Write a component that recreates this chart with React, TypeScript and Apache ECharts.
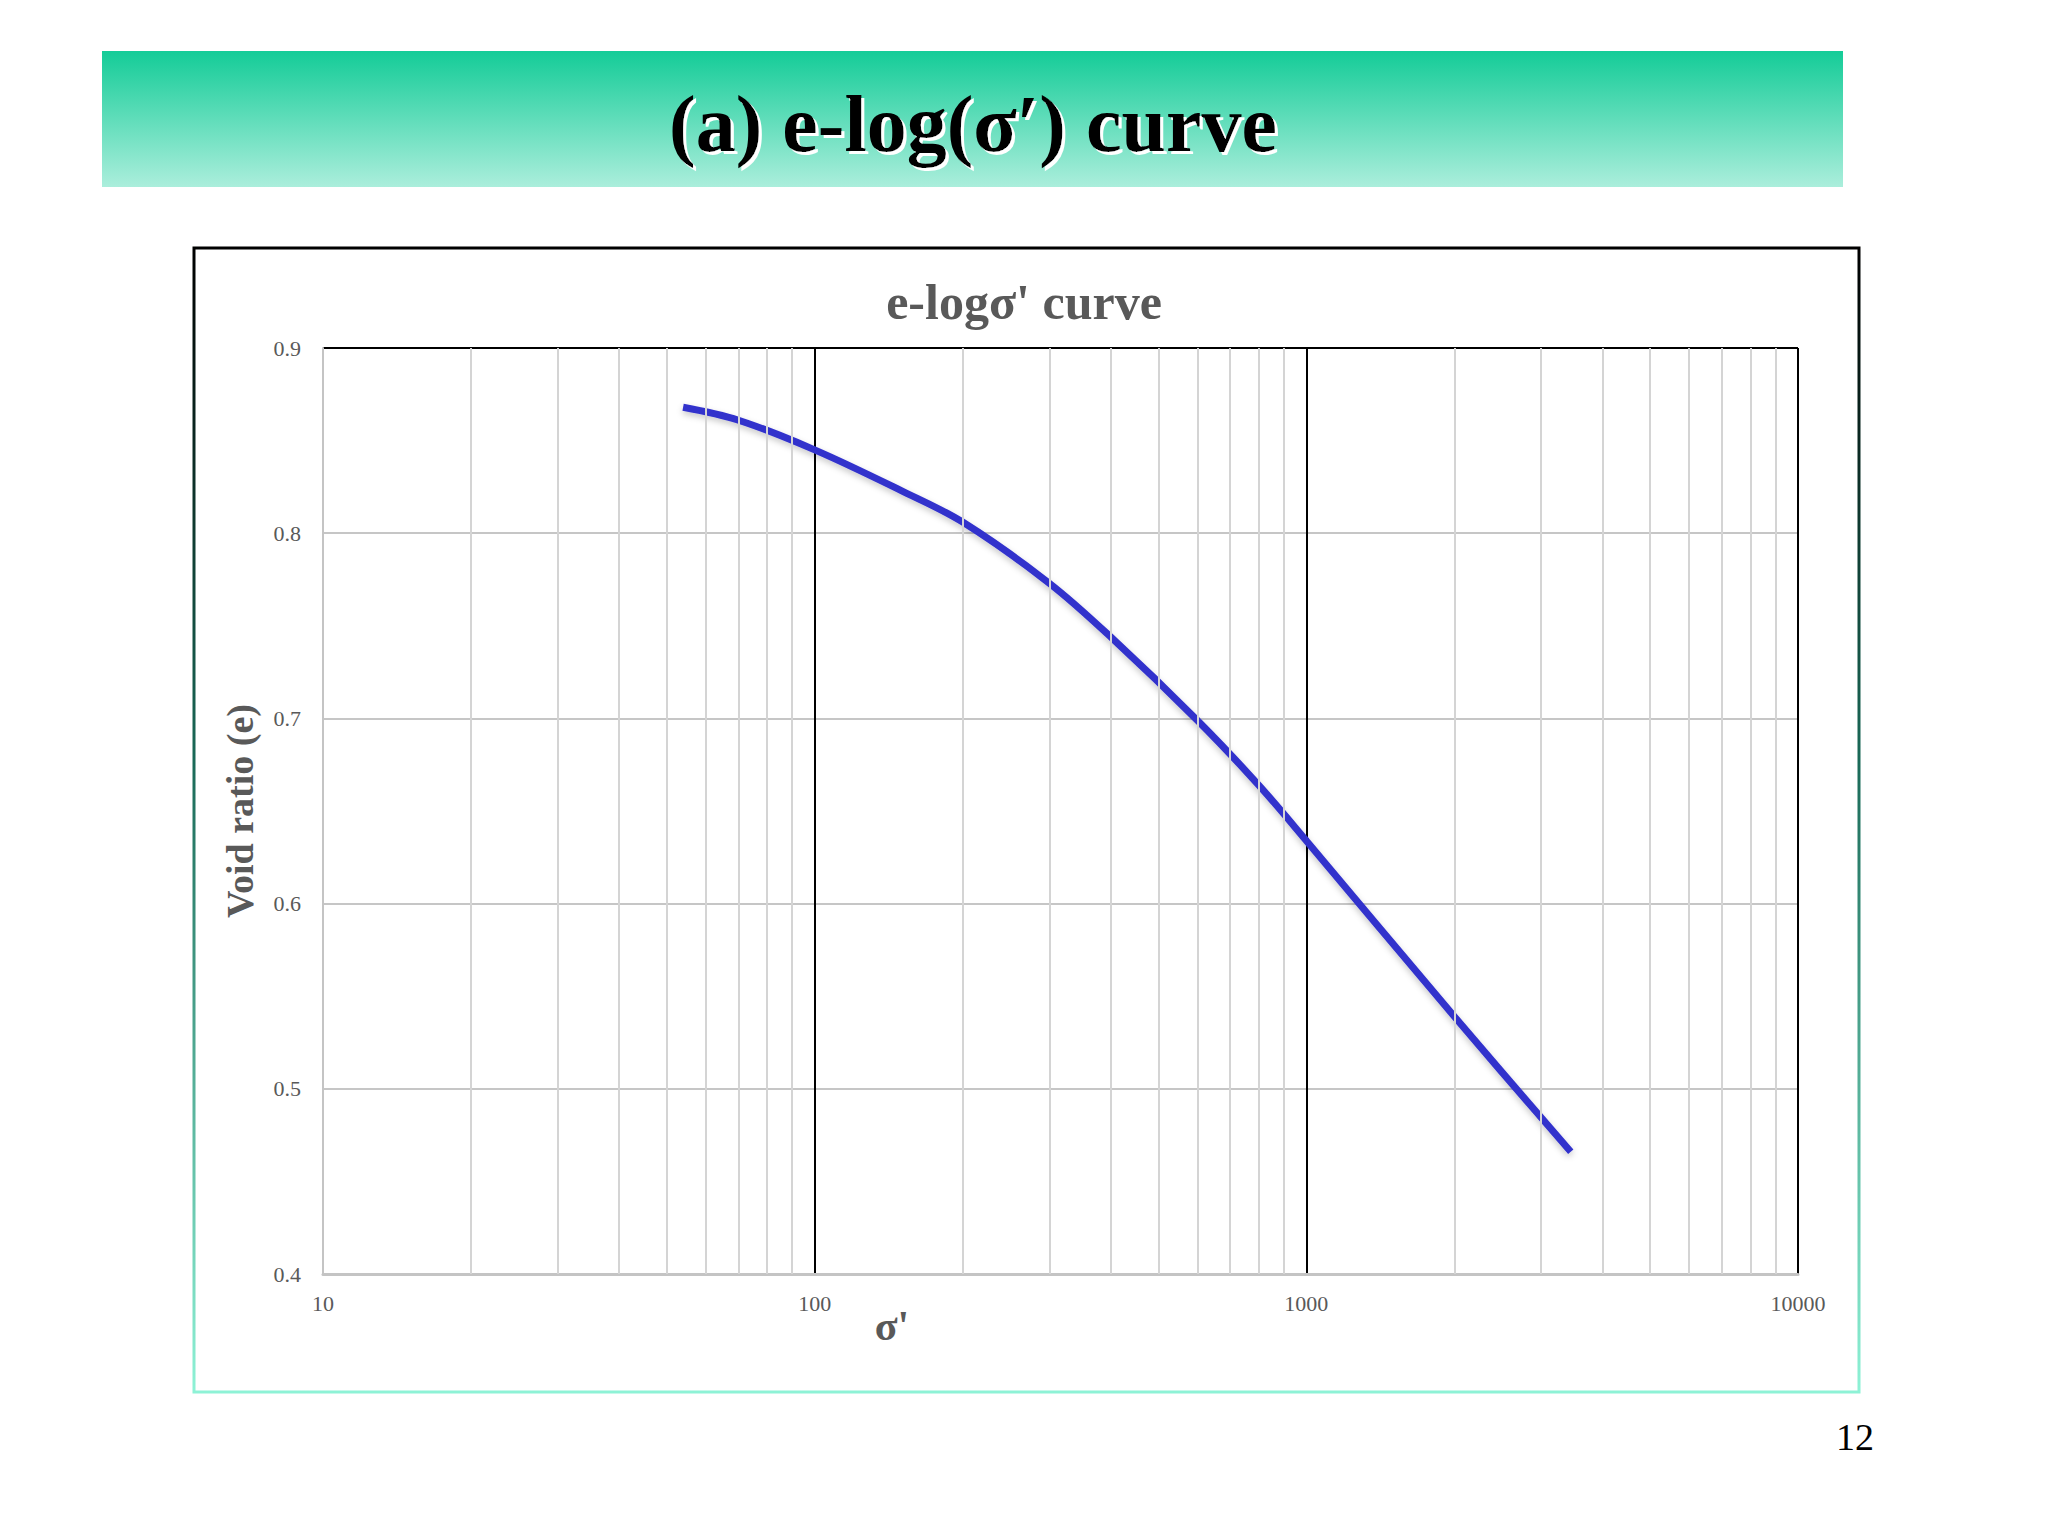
import React, { useEffect, useRef } from "react";
import * as echarts from "echarts";

const sigma = [54, 70, 100, 150, 200, 300, 400, 600, 800, 1000, 2000, 3450];
const voidRatio = [0.868, 0.861, 0.845, 0.823, 0.806, 0.773, 0.744, 0.699, 0.664, 0.634, 0.539, 0.466];
const minorX = [20, 30, 40, 50, 60, 70, 80, 90, 200, 300, 400, 500, 600, 700, 800, 900, 2000, 3000, 4000, 5000, 6000, 7000, 8000, 9000];
const xRange = [10, 10000];
const yRange = [0.4, 0.9];
const yStep = 0.1;

const pageTitle = "(a) e-log(σ′) curve";
const chartTitle = "e-logσ' curve";
const xName = "σ'";
const yName = "Void ratio (e)";
const pageNo = "12";

const serif = "Liberation Serif";

export default function App() {
  const ref = useRef<HTMLDivElement>(null);
  useEffect(() => {
    if (!ref.current) return;
    const chart = echarts.init(ref.current, null, { renderer: "svg" });
    const data = sigma.map((s, i) => [s, voidRatio[i]]);
    chart.setOption({
      animation: false,
      backgroundColor: "#ffffff",
      title: {
        text: chartTitle,
        left: "center",
        top: 272,
        textStyle: { fontFamily: serif, fontSize: 50, fontWeight: "bold", color: "#595959" },
      },
      grid: { left: 323, top: 348, width: 1475, height: 926 },
      xAxis: {
        type: "log",
        logBase: 10,
        min: xRange[0],
        max: xRange[1],
        axisLine: { show: true, lineStyle: { color: "#c4c4c4", width: 3 } },
        axisTick: { show: false },
        axisLabel: {
          fontFamily: serif,
          fontSize: 22,
          color: "#595959",
          margin: 18,
          formatter: (v: number) => String(Math.round(v)),
        },
        splitLine: { show: true, lineStyle: { color: ["#c8c8c8", "#000000", "#000000", "#000000"], width: 2 } },
      },
      yAxis: {
        type: "value",
        min: yRange[0],
        max: yRange[1],
        interval: yStep,
        name: yName,
        nameLocation: "middle",
        nameGap: 64,
        nameTextStyle: { fontFamily: serif, fontSize: 38, fontWeight: "bold", color: "#595959" },
        axisLine: { show: true, lineStyle: { color: "#c4c4c4", width: 2 } },
        axisTick: { show: false },
        axisLabel: { fontFamily: serif, fontSize: 22, color: "#595959", margin: 22, formatter: (v: number) => v.toFixed(1) },
        splitLine: {
          show: true,
          lineStyle: { color: ["#c6c6c6", "#c6c6c6", "#c6c6c6", "#c6c6c6", "#c6c6c6", "#000000"], width: 2 },
        },
      },
      series: [
        {
          type: "line",
          z: 1,
          data: [],
          silent: true,
          markLine: {
            silent: true,
            symbol: ["none", "none"],
            label: { show: false },
            lineStyle: { color: "#d4d4d4", width: 2, type: "solid" },
            data: minorX.map((v) => ({ xAxis: v })),
          },
        },
        {
          type: "line",
          z: 3,
          data,
          smooth: 0.35,
          showSymbol: false,
          lineStyle: {
            color: "#3333cc",
            width: 7,
            shadowColor: "rgba(0,0,0,0.22)",
            shadowBlur: 6,
            shadowOffsetY: 3,
          },
        },
      ],
      graphic: [
        {
          type: "rect",
          z: 0,
          shape: { x: 102, y: 51, width: 1741, height: 136 },
          style: {
            fill: new echarts.graphic.LinearGradient(0, 0, 0, 1, [
              { offset: 0, color: "#14cc98" },
              { offset: 1, color: "#abeedc" },
            ]),
          },
        },
        {
          type: "text",
          z: 10,
          x: 973,
          y: 124,
          style: {
            text: pageTitle,
            fontFamily: serif,
            fontSize: 80,
            fontWeight: "bold",
            fill: "#000000",
            align: "center",
            verticalAlign: "middle",
            textShadowColor: "#ffffff",
            textShadowOffsetX: 3,
            textShadowOffsetY: 3,
            textShadowBlur: 1,
          },
        },
        {
          type: "rect",
          z: 0,
          shape: { x: 194, y: 248, width: 1665, height: 1144 },
          style: {
            fill: "none",
            lineWidth: 3,
            stroke: new echarts.graphic.LinearGradient(0, 0, 0, 1, [
              { offset: 0, color: "#000000" },
              { offset: 0.45, color: "#1a6a58" },
              { offset: 1, color: "#8ef2d6" },
            ]),
          },
        },
        {
          type: "text",
          z: 10,
          x: 892,
          y: 1326,
          style: {
            text: xName,
            fontFamily: serif,
            fontSize: 42,
            fontWeight: "bold",
            fill: "#595959",
            align: "center",
            verticalAlign: "middle",
          },
        },
        {
          type: "text",
          z: 10,
          x: 1855,
          y: 1437,
          style: {
            text: pageNo,
            fontFamily: serif,
            fontSize: 38,
            fill: "#000000",
            align: "center",
            verticalAlign: "middle",
          },
        },
      ],
    });
    return () => chart.dispose();
  }, []);
  return <div ref={ref} style={{ position: "absolute", left: 0, top: 0, width: 2048, height: 1536 }} />;
}
